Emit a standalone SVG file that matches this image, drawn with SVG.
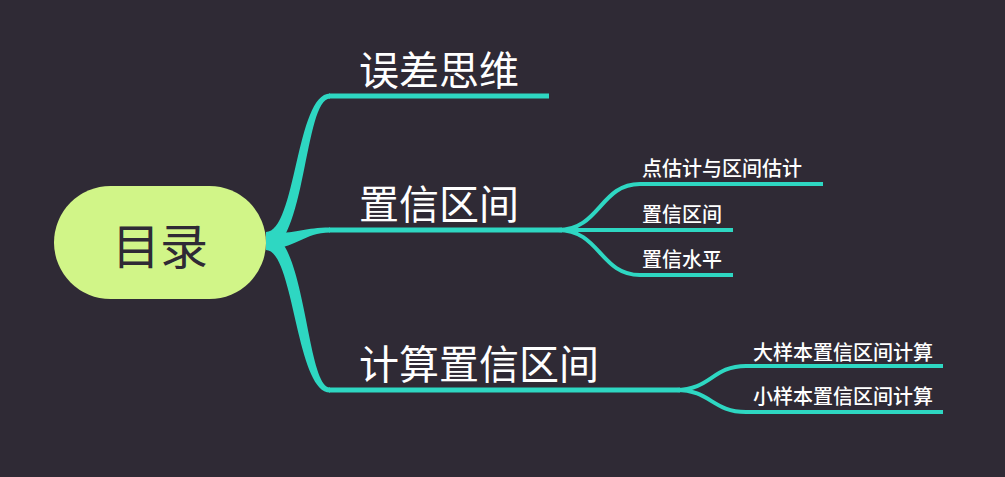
<svg xmlns="http://www.w3.org/2000/svg" width="1005" height="477" viewBox="0 0 1005 477">
<style>
.bg{fill:#2f2a35}
.br{fill:#2ed7c2}
.ln{fill:none;stroke:#2ed7c2;stroke-linecap:butt}
.main{stroke-width:5}
.sub{stroke-width:4}
.t{font-family:"Noto Sans CJK SC","Noto Sans",sans-serif;fill:#ffffff}
.t1{font-size:40px}
.t2{font-size:20px;font-weight:500}
.root{font-family:"Noto Sans CJK SC","Noto Sans",sans-serif;font-size:48px;fill:#2f2a35}
</style>
<rect class="bg" x="0" y="0" width="1005" height="477"/>
<g id="connectors">
<path class="br" d="M266,232 C296,232 296,93.5 330,93.5 L330,98.5 C304,98.5 306,250 266,250 Z"/>
<path class="br" d="M266,233 C300,234 302,227.5 330,227.5 L330,232.5 C304,232.5 296,249 266,249 Z"/>
<path class="br" d="M266,232 C306,232 306,387.5 330,387.5 L330,392.5 C296,392.5 294,250 266,250 Z"/>
<path class="ln main" d="M329,96 L549,96"/>
<path class="ln main" d="M329,230 L562,230"/>
<path class="ln main" d="M329,390 L680,390"/>
<path class="ln sub" d="M558,230 C600,230 600,184 640,184 L823,184"/>
<path class="ln sub" d="M558,230 L733,230"/>
<path class="ln sub" d="M558,230 C600,230 600,275 640,275 L733,275"/>
<path class="ln sub" d="M676,390 C711,390 712,366 746,366 L943,366"/>
<path class="ln sub" d="M676,390 C711,390 712,412 746,412 L943,412"/>
</g>
<g id="root">
<rect x="54" y="186" width="212" height="113" rx="56.5" fill="#d1f588"/>
<text class="root" x="160" y="264" text-anchor="middle">目录</text>
</g>
<g id="n1"><text class="t t1" x="359" y="85">误差思维</text></g>
<g id="n2"><text class="t t1" x="359" y="219">置信区间</text></g>
<g id="n3"><text class="t t1" x="359" y="379">计算置信区间</text></g>
<g id="n2a"><text class="t t2" x="642" y="176">点估计与区间估计</text></g>
<g id="n2b"><text class="t t2" x="642" y="222">置信区间</text></g>
<g id="n2c"><text class="t t2" x="642" y="267">置信水平</text></g>
<g id="n3a"><text class="t t2" x="753" y="360">大样本置信区间计算</text></g>
<g id="n3b"><text class="t t2" x="753" y="404">小样本置信区间计算</text></g>
</svg>
